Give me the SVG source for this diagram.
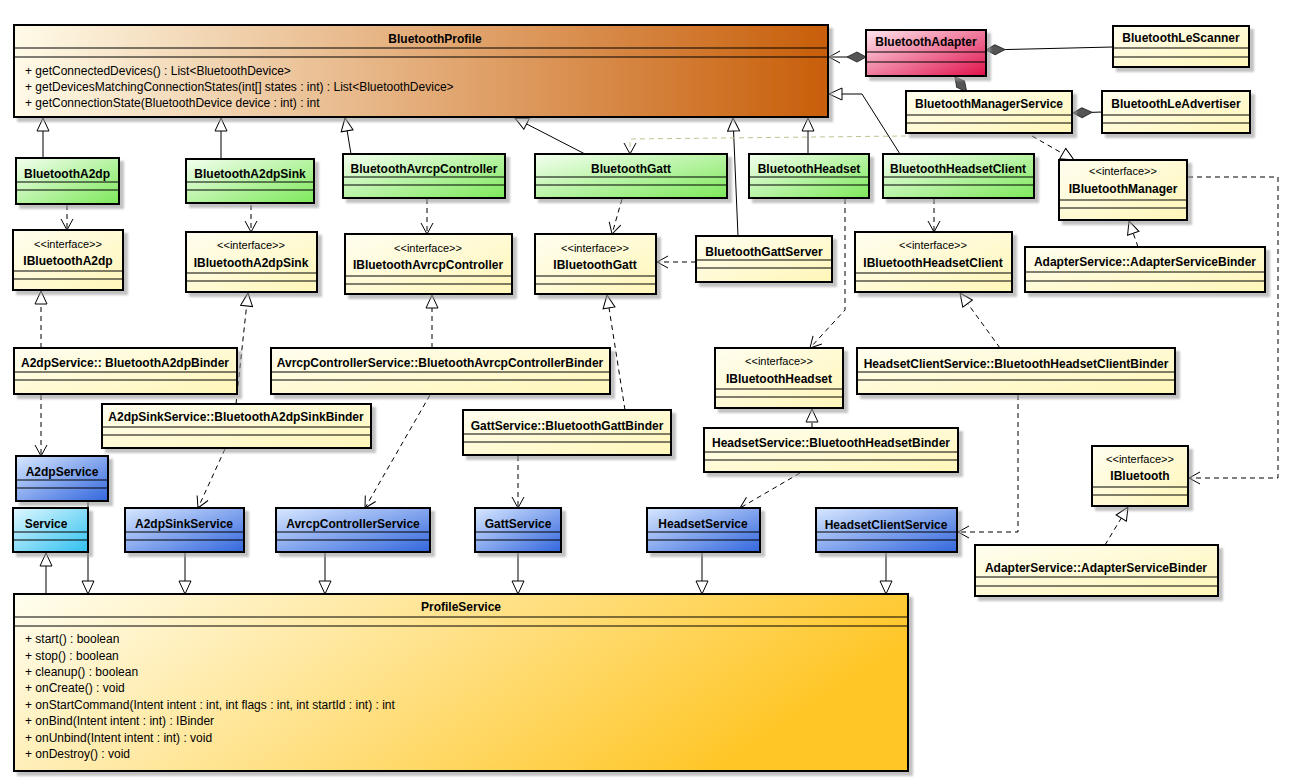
<svg xmlns="http://www.w3.org/2000/svg" width="1293" height="779" viewBox="0 0 1293 779">
<style>
text{font-family:"Liberation Sans",Arial,sans-serif;font-size:11px;fill:#000}
.m{font-size:12px}
.t{font-weight:bold;font-size:12px;text-anchor:middle}
.s{text-anchor:middle;font-size:11px}
.box{stroke:#000;stroke-width:2;filter:url(#sh)}
.ln{stroke:#000;stroke-width:1}
.y{fill:url(#gy)}.g{fill:url(#gg)}.b{fill:url(#gb)}.p{fill:url(#gp)}
.c{fill:none;stroke:#000;stroke-width:1}
.d{fill:none;stroke:#000;stroke-width:1;stroke-dasharray:5,4}
.gen{marker-end:url(#tri)}.dep{marker-end:url(#arr)}
</style>
<defs>
<filter id="sh" x="-5%" y="-5%" width="115%" height="130%"><feDropShadow dx="4" dy="4" stdDeviation="1" flood-color="#999" flood-opacity="0.6"/></filter>
<linearGradient id="gy" x1="0" y1="0" x2="1" y2="1"><stop offset="0" stop-color="#fffef0"/><stop offset="1" stop-color="#fff6b8"/></linearGradient>
<linearGradient id="gg" x1="0" y1="0" x2="1" y2="1"><stop offset="0" stop-color="#f4fff0"/><stop offset="1" stop-color="#7de85a"/></linearGradient>
<linearGradient id="gb" x1="0" y1="0" x2="1" y2="1"><stop offset="0" stop-color="#d8e8ff"/><stop offset="1" stop-color="#3366dd"/></linearGradient>
<linearGradient id="gc" x1="0" y1="0" x2="1" y2="1"><stop offset="0" stop-color="#e0f8ff"/><stop offset="1" stop-color="#30c0f0"/></linearGradient>
<linearGradient id="gp" x1="0" y1="0" x2="1" y2="1"><stop offset="0" stop-color="#ffe8f0"/><stop offset="1" stop-color="#e0104a"/></linearGradient>
<linearGradient id="gbp" x1="0" y1="0" x2="1" y2="0"><stop offset="0" stop-color="#fffbe8"/><stop offset="1" stop-color="#c85e0a"/></linearGradient>
<linearGradient id="gps" x1="0" y1="0" x2="1" y2="0.3"><stop offset="0" stop-color="#fffef0"/><stop offset="1" stop-color="#ffc626"/></linearGradient>
<marker id="tri" markerWidth="16" markerHeight="14" refX="14" refY="7" orient="auto" markerUnits="userSpaceOnUse"><path d="M1,1 L14,7 L1,13 Z" fill="#fff" stroke="#000"/></marker>
<marker id="arr" markerWidth="14" markerHeight="14" refX="12" refY="7" orient="auto" markerUnits="userSpaceOnUse"><path d="M1,1 L12,7 L1,13" fill="none" stroke="#000"/></marker>
<marker id="dia" markerWidth="22" markerHeight="12" refX="1" refY="6" orient="auto" markerUnits="userSpaceOnUse"><path d="M1,6 L10,1 L20,6 L10,11 Z" fill="#555" stroke="#333"/></marker>
</defs>

<g id="connectors">
<line class="c gen" x1="43" y1="158" x2="43" y2="118"/>
<line class="c gen" x1="221" y1="159" x2="221" y2="118"/>
<line class="c gen" x1="351" y1="154" x2="345" y2="118"/>
<line class="c gen" x1="585" y1="154" x2="515" y2="118"/>
<line class="c gen" x1="738" y1="236" x2="733" y2="118"/>
<line class="c gen" x1="808" y1="154" x2="808" y2="118"/>
<polyline class="c gen" points="900,154 862,94 829,94"/>
<line class="c dep" x1="854" y1="57" x2="829" y2="57"/>
<line class="c" x1="866" y1="57" x2="854" y2="57" marker-start="url(#dia)"/>
<line class="c" x1="986" y1="50" x2="1113" y2="47" marker-start="url(#dia)"/>
<line class="c" x1="955" y1="77" x2="966" y2="91" marker-start="url(#dia)"/>
<line class="c" x1="1073" y1="113" x2="1102" y2="112" marker-start="url(#dia)"/>
<line class="d gen" x1="1032" y1="136" x2="1074" y2="160"/>
<polyline class="d dep" points="1188,177 1278,177 1278,478 1189,478"/>
<polyline fill="none" stroke="#b8c890" stroke-dasharray="5,4" points="906,136 630,139 630,154" marker-end="url(#arr)"/>
<line class="d dep" x1="67" y1="205" x2="67" y2="230"/>
<line class="d dep" x1="251" y1="205" x2="251" y2="232"/>
<line class="d dep" x1="427" y1="199" x2="427" y2="234"/>
<line class="d dep" x1="622" y1="199" x2="612" y2="234"/>
<line class="d dep" x1="934" y1="199" x2="934" y2="232"/>
<line class="d dep" x1="696" y1="262" x2="657" y2="262"/>
<polyline class="d dep" points="845,199 845,310 810,348"/>
<line class="d gen" x1="41" y1="348" x2="41" y2="291"/>
<line class="d gen" x1="432" y1="348" x2="432" y2="295"/>
<line class="d gen" x1="236" y1="404" x2="248" y2="293"/>
<line class="d gen" x1="625" y1="410" x2="607" y2="295"/>
<line class="d gen" x1="1000" y1="348" x2="960" y2="293"/>
<line class="d gen" x1="812" y1="428" x2="812" y2="409"/>
<line class="d gen" x1="1138" y1="247" x2="1129" y2="221"/>
<line class="d gen" x1="1105" y1="545" x2="1128" y2="507"/>
<line class="d dep" x1="41" y1="395" x2="41" y2="456"/>
<line class="d dep" x1="225" y1="449" x2="198" y2="508"/>
<line class="d dep" x1="430" y1="395" x2="365" y2="508"/>
<line class="d dep" x1="518" y1="456" x2="518" y2="508"/>
<line class="d dep" x1="800" y1="473" x2="740" y2="508"/>
<polyline class="d dep" points="1018,395 1018,532 958,532"/>
<line class="c gen" x1="88" y1="502" x2="88" y2="594"/>
<line class="c gen" x1="185" y1="553" x2="185" y2="594"/>
<line class="c gen" x1="325" y1="553" x2="325" y2="594"/>
<line class="c gen" x1="518" y1="553" x2="518" y2="594"/>
<line class="c gen" x1="702" y1="553" x2="702" y2="594"/>
<line class="c gen" x1="886" y1="553" x2="886" y2="594"/>
<line class="c gen" x1="46" y1="594" x2="46" y2="553"/>
</g>

<g id="BluetoothProfile"><rect class="box" x="14" y="25" width="814" height="92" fill="url(#gbp)"/><line class="ln" x1="14" y1="48" x2="828" y2="48"/><line class="ln" x1="14" y1="57" x2="828" y2="57"/>
<text class="t" x="435" y="43">BluetoothProfile</text>
<text class="m" x="25" y="75">+ getConnectedDevices() : List&lt;BluetoothDevice&gt;</text>
<text class="m" x="25" y="91">+ getDevicesMatchingConnectionStates(int[] states : int) : List&lt;BluetoothDevice&gt;</text>
<text class="m" x="25" y="107">+ getConnectionState(BluetoothDevice device : int) : int</text></g>

<g id="BluetoothAdapter"><rect class="box p" x="866" y="30" width="120" height="46"/><line class="ln" x1="866" y1="52" x2="986" y2="52"/><line class="ln" x1="866" y1="62" x2="986" y2="62"/><text class="t" x="926" y="46">BluetoothAdapter</text></g>
<g id="BluetoothLeScanner"><rect class="box y" x="1113" y="26" width="136" height="41"/><line class="ln" x1="1113" y1="48" x2="1249" y2="48"/><line class="ln" x1="1113" y1="57" x2="1249" y2="57"/><text class="t" x="1181" y="42">BluetoothLeScanner</text></g>
<g id="BluetoothManagerService"><rect class="box y" x="906" y="91" width="166" height="42"/><line class="ln" x1="906" y1="115" x2="1072" y2="115"/><line class="ln" x1="906" y1="123" x2="1072" y2="123"/><text class="t" x="989" y="108">BluetoothManagerService</text></g>
<g id="BluetoothLeAdvertiser"><rect class="box y" x="1102" y="91" width="148" height="42"/><line class="ln" x1="1102" y1="115" x2="1250" y2="115"/><line class="ln" x1="1102" y1="123" x2="1250" y2="123"/><text class="t" x="1176" y="108">BluetoothLeAdvertiser</text></g>

<g id="BluetoothA2dp"><rect class="box g" x="16" y="158" width="103" height="46"/><line class="ln" x1="16" y1="182" x2="119" y2="182"/><line class="ln" x1="16" y1="190" x2="119" y2="190"/><text class="t" x="67" y="178">BluetoothA2dp</text></g>
<g id="BluetoothA2dpSink"><rect class="box g" x="186" y="159" width="128" height="44"/><line class="ln" x1="186" y1="182" x2="314" y2="182"/><line class="ln" x1="186" y1="190" x2="314" y2="190"/><text class="t" x="250" y="178">BluetoothA2dpSink</text></g>
<g id="BluetoothAvrcpController"><rect class="box g" x="343" y="154" width="162" height="44"/><line class="ln" x1="343" y1="177" x2="505" y2="177"/><line class="ln" x1="343" y1="185" x2="505" y2="185"/><text class="t" x="424" y="173">BluetoothAvrcpController</text></g>
<g id="BluetoothGatt"><rect class="box g" x="535" y="154" width="192" height="44"/><line class="ln" x1="535" y1="177" x2="727" y2="177"/><line class="ln" x1="535" y1="185" x2="727" y2="185"/><text class="t" x="631" y="173">BluetoothGatt</text></g>
<g id="BluetoothHeadset"><rect class="box g" x="749" y="154" width="120" height="44"/><line class="ln" x1="749" y1="177" x2="869" y2="177"/><line class="ln" x1="749" y1="185" x2="869" y2="185"/><text class="t" x="809" y="173">BluetoothHeadset</text></g>
<g id="BluetoothHeadsetClient"><rect class="box g" x="883" y="154" width="151" height="44"/><line class="ln" x1="883" y1="177" x2="1034" y2="177"/><line class="ln" x1="883" y1="185" x2="1034" y2="185"/><text class="t" x="958" y="173">BluetoothHeadsetClient</text></g>

<g id="IBluetoothManager"><rect class="box y" x="1059" y="160" width="128" height="60"/><line class="ln" x1="1059" y1="200" x2="1187" y2="200"/><line class="ln" x1="1059" y1="208" x2="1187" y2="208"/><text class="s" x="1123" y="175">&lt;&lt;interface&gt;&gt;</text><text class="t" x="1123" y="193">IBluetoothManager</text></g>
<g id="IBluetoothA2dp"><rect class="box y" x="13" y="230" width="110" height="60"/><line class="ln" x1="13" y1="271" x2="123" y2="271"/><line class="ln" x1="13" y1="279" x2="123" y2="279"/><text class="s" x="68" y="248">&lt;&lt;interface&gt;&gt;</text><text class="t" x="68" y="265">IBluetoothA2dp</text></g>
<g id="IBluetoothA2dpSink"><rect class="box y" x="186" y="232" width="131" height="60"/><line class="ln" x1="186" y1="273" x2="317" y2="273"/><line class="ln" x1="186" y1="281" x2="317" y2="281"/><text class="s" x="251" y="249">&lt;&lt;interface&gt;&gt;</text><text class="t" x="251" y="267">IBluetoothA2dpSink</text></g>
<g id="IBluetoothAvrcpController"><rect class="box y" x="345" y="234" width="167" height="60"/><line class="ln" x1="345" y1="276" x2="512" y2="276"/><line class="ln" x1="345" y1="284" x2="512" y2="284"/><text class="s" x="428" y="252">&lt;&lt;interface&gt;&gt;</text><text class="t" x="428" y="269">IBluetoothAvrcpController</text></g>
<g id="IBluetoothGatt"><rect class="box y" x="535" y="234" width="121" height="60"/><line class="ln" x1="535" y1="276" x2="656" y2="276"/><line class="ln" x1="535" y1="284" x2="656" y2="284"/><text class="s" x="595" y="252">&lt;&lt;interface&gt;&gt;</text><text class="t" x="595" y="269">IBluetoothGatt</text></g>
<g id="BluetoothGattServer"><rect class="box y" x="696" y="236" width="136" height="46"/><line class="ln" x1="696" y1="260" x2="832" y2="260"/><line class="ln" x1="696" y1="268" x2="832" y2="268"/><text class="t" x="764" y="256">BluetoothGattServer</text></g>
<g id="IBluetoothHeadsetClient"><rect class="box y" x="855" y="232" width="157" height="60"/><line class="ln" x1="855" y1="273" x2="1012" y2="273"/><line class="ln" x1="855" y1="281" x2="1012" y2="281"/><text class="s" x="933" y="249">&lt;&lt;interface&gt;&gt;</text><text class="t" x="933" y="267">IBluetoothHeadsetClient</text></g>
<g id="AdapterServiceBinder1"><rect class="box y" x="1025" y="247" width="240" height="45"/><line class="ln" x1="1025" y1="272" x2="1265" y2="272"/><line class="ln" x1="1025" y1="281" x2="1265" y2="281"/><text class="t" x="1145" y="266">AdapterService::AdapterServiceBinder</text></g>

<g id="A2dpBinder"><rect class="box y" x="14" y="348" width="223" height="46"/><line class="ln" x1="14" y1="372" x2="237" y2="372"/><line class="ln" x1="14" y1="380" x2="237" y2="380"/><text class="t" x="125" y="367">A2dpService:: BluetoothA2dpBinder</text></g>
<g id="AvrcpBinder"><rect class="box y" x="271" y="348" width="339" height="46"/><line class="ln" x1="271" y1="372" x2="610" y2="372"/><line class="ln" x1="271" y1="380" x2="610" y2="380"/><text class="t" x="440" y="367">AvrcpControllerService::BluetoothAvrcpControllerBinder</text></g>
<g id="IBluetoothHeadset"><rect class="box y" x="715" y="348" width="128" height="60"/><line class="ln" x1="715" y1="389" x2="843" y2="389"/><line class="ln" x1="715" y1="397" x2="843" y2="397"/><text class="s" x="779" y="365">&lt;&lt;interface&gt;&gt;</text><text class="t" x="779" y="383">IBluetoothHeadset</text></g>
<g id="HeadsetClientBinder"><rect class="box y" x="857" y="348" width="318" height="46"/><line class="ln" x1="857" y1="372" x2="1175" y2="372"/><line class="ln" x1="857" y1="380" x2="1175" y2="380"/><text class="t" x="1016" y="368">HeadsetClientService::BluetoothHeadsetClientBinder</text></g>
<g id="A2dpSinkBinder"><rect class="box y" x="102" y="404" width="269" height="44"/><line class="ln" x1="102" y1="427" x2="371" y2="427"/><line class="ln" x1="102" y1="435" x2="371" y2="435"/><text class="t" x="236" y="421">A2dpSinkService::BluetoothA2dpSinkBinder</text></g>
<g id="GattBinder"><rect class="box y" x="463" y="410" width="208" height="45"/><line class="ln" x1="463" y1="434" x2="671" y2="434"/><line class="ln" x1="463" y1="442" x2="671" y2="442"/><text class="t" x="567" y="430">GattService::BluetoothGattBinder</text></g>
<g id="HeadsetBinder"><rect class="box y" x="704" y="428" width="254" height="44"/><line class="ln" x1="704" y1="452" x2="958" y2="452"/><line class="ln" x1="704" y1="460" x2="958" y2="460"/><text class="t" x="831" y="447">HeadsetService::BluetoothHeadsetBinder</text></g>
<g id="IBluetooth"><rect class="box y" x="1092" y="446" width="96" height="60"/><line class="ln" x1="1092" y1="487" x2="1188" y2="487"/><line class="ln" x1="1092" y1="495" x2="1188" y2="495"/><text class="s" x="1140" y="463">&lt;&lt;interface&gt;&gt;</text><text class="t" x="1140" y="480">IBluetooth</text></g>

<g id="A2dpService"><rect class="box b" x="16" y="456" width="92" height="45"/><line class="ln" x1="16" y1="480" x2="108" y2="480"/><line class="ln" x1="16" y1="488" x2="108" y2="488"/><text class="t" x="62" y="476">A2dpService</text></g>
<g id="Service"><rect class="box" x="13" y="508" width="75" height="44" fill="url(#gc)"/><line class="ln" x1="13" y1="532" x2="88" y2="532"/><line class="ln" x1="13" y1="540" x2="88" y2="540"/><text class="t" x="46" y="528">Service</text></g>
<g id="A2dpSinkService"><rect class="box b" x="125" y="508" width="119" height="44"/><line class="ln" x1="125" y1="532" x2="244" y2="532"/><line class="ln" x1="125" y1="540" x2="244" y2="540"/><text class="t" x="184" y="528">A2dpSinkService</text></g>
<g id="AvrcpControllerService"><rect class="box b" x="276" y="508" width="154" height="44"/><line class="ln" x1="276" y1="532" x2="430" y2="532"/><line class="ln" x1="276" y1="540" x2="430" y2="540"/><text class="t" x="353" y="528">AvrcpControllerService</text></g>
<g id="GattService"><rect class="box b" x="475" y="508" width="86" height="44"/><line class="ln" x1="475" y1="532" x2="561" y2="532"/><line class="ln" x1="475" y1="540" x2="561" y2="540"/><text class="t" x="518" y="528">GattService</text></g>
<g id="HeadsetService"><rect class="box b" x="647" y="508" width="113" height="44"/><line class="ln" x1="647" y1="532" x2="760" y2="532"/><line class="ln" x1="647" y1="540" x2="760" y2="540"/><text class="t" x="703" y="528">HeadsetService</text></g>
<g id="HeadsetClientService"><rect class="box b" x="816" y="508" width="141" height="44"/><line class="ln" x1="816" y1="532" x2="957" y2="532"/><line class="ln" x1="816" y1="540" x2="957" y2="540"/><text class="t" x="886" y="529">HeadsetClientService</text></g>
<g id="AdapterServiceBinder2"><rect class="box y" x="975" y="545" width="243" height="51"/><line class="ln" x1="975" y1="577" x2="1218" y2="577"/><line class="ln" x1="975" y1="586" x2="1218" y2="586"/><text class="t" x="1096" y="572">AdapterService::AdapterServiceBinder</text></g>

<g id="ProfileService"><rect class="box" x="14" y="594" width="894" height="177" fill="url(#gps)"/><line class="ln" x1="14" y1="617" x2="908" y2="617"/><line class="ln" x1="14" y1="626" x2="908" y2="626"/>
<text class="t" x="461" y="611">ProfileService</text>
<text class="m" x="25" y="643">+ start() : boolean</text>
<text class="m" x="25" y="660">+ stop() : boolean</text>
<text class="m" x="25" y="676">+ cleanup() : boolean</text>
<text class="m" x="25" y="692">+ onCreate() : void</text>
<text class="m" x="25" y="709">+ onStartCommand(Intent intent : int, int flags : int, int startId : int) : int</text>
<text class="m" x="25" y="725">+ onBind(Intent intent : int) : IBinder</text>
<text class="m" x="25" y="742">+ onUnbind(Intent intent : int) : void</text>
<text class="m" x="25" y="758">+ onDestroy() : void</text></g>
</svg>
